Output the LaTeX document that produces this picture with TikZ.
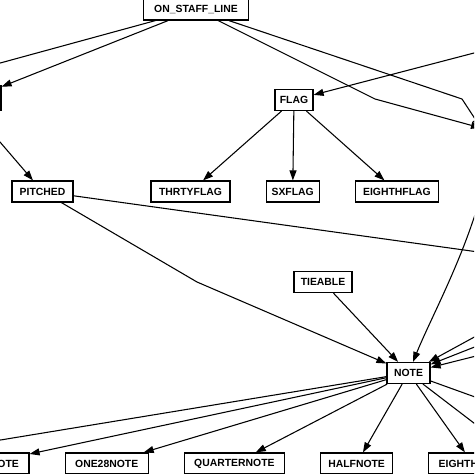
\documentclass[tikz,border=0pt]{standalone}
\usepackage{fontspec}
\setmainfont{Liberation Sans}
\usepackage{tikz}
\usetikzlibrary{calc, positioning, arrows.meta}
\tikzset{
    cls/.style={rectangle, draw=black, line width=0.9pt, fill=white, inner sep=0pt, minimum height=15.75pt, align=center, font=\bfseries\fontsize{7.8}{9}\selectfont},
    arrow/.style={-{Triangle[length=7.5pt, width=5.25pt]}, line width=0.8pt},
}

\begin{document}
\begin{tikzpicture}[x=0.75pt, y=-0.75pt, node distance=26.25pt]
    \useasboundingbox (0,0) rectangle (474,474);
    \clip (0,0) rectangle (474,474);

    % --- UPPER CLASSES ---
    \node[cls, minimum width=78.75pt] (OSL) at (196,9.5) {ON\_STAFF\_LINE};
    \node[cls, minimum width=42pt, minimum height=18pt] (LFT) at (-27,98) {};
    \node[cls, minimum width=28.5pt] (FLAG) at (294,100) {FLAG};

    % --- FLAG ROW ---
    \node[cls, minimum width=45.75pt] (PITCHED) at (42.5,191.5) {PITCHED};
    \node[cls, minimum width=59.25pt] (THRTY) at (190.5,191.5) {THRTYFLAG};
    \node[cls, minimum width=39.75pt, right=of THRTY] (SX) {SXFLAG};
    \node[cls, minimum width=62.25pt, right=of SX] (EIGHTHF) {EIGHTHFLAG};

    \node[cls, minimum width=43.5pt] (TIE) at (323,282) {TIEABLE};
    \node[cls, minimum width=32.25pt] (NOTE) at (408.5,373) {NOTE};

    % --- NOTE ROW ---
    \node[cls, minimum width=66pt] (WHOLE) at (-15,463.5) {WHOLENOTE};
    \node[cls, minimum width=62.25pt, right=of WHOLE] (ONE28) {ONE28NOTE};
    \node[cls, minimum width=75pt, right=of ONE28] (QUARTER) {QUARTERNOTE};
    \node[cls, minimum width=54pt, right=of QUARTER] (HALF) {HALFNOTE};
    \node[cls, minimum width=66pt, right=of HALF] (EIGHTHN) {EIGHTHNOTE};

    % off-page ends and bends
    \coordinate (offW) at (-40,74);
    \coordinate (offNE) at (520,41);
    \coordinate (offE) at (481,128);
    \coordinate (bendA) at (375,99);
    \coordinate (bendB) at (462,99);
    \coordinate (bendP) at (197,282);
    \coordinate (offP) at (500,255);
    \coordinate (offC) at (478,205);
    \coordinate (in1) at (500,323);
    \coordinate (in2) at (500,337);
    \coordinate (in3) at (500,350);
    \coordinate (out1) at (500,406);
    \coordinate (out2) at (500,443);
    \coordinate (offSW) at (-30,445);

    % ON_STAFF_LINE
    \draw[arrow] (OSL) -- (offW);
    \draw[arrow] (OSL) -- (LFT);
    \draw[arrow] (OSL) -- (bendA) -- (offE);
    \draw[arrow] (OSL) -- (bendB) -- (offE);

    % FLAG
    \draw[arrow] (offNE) -- (FLAG);
    \draw[arrow] (FLAG) -- (THRTY);
    \draw[arrow] (FLAG) -- (SX);
    \draw[arrow] (FLAG) -- (EIGHTHF);

    % PITCHED
    \draw[arrow] (LFT.south) -- (PITCHED);
    \draw[arrow] (PITCHED) -- (offP);
    \draw[arrow] (PITCHED) -- (bendP) -- (NOTE);

    % into NOTE
    \draw[arrow] (TIE) -- (NOTE);
    \draw[arrow] (offC) .. controls (460,265) and (430,320) .. (NOTE);
    \draw[arrow] (in1) -- (NOTE);
    \draw[arrow] (in2) -- (NOTE);
    \draw[arrow] (in3) -- (NOTE);

    % out of NOTE
    \draw[arrow] (NOTE) -- (out1);
    \draw[arrow] (NOTE) -- (out2);
    \draw[arrow] (NOTE) -- (offSW);
    \draw[arrow] (NOTE) -- (WHOLE);
    \draw[arrow] (NOTE) -- (ONE28);
    \draw[arrow] (NOTE) -- (QUARTER);
    \draw[arrow] (NOTE) -- (HALF);
    \draw[arrow] (NOTE) -- (EIGHTHN);
\end{tikzpicture}
\end{document}
